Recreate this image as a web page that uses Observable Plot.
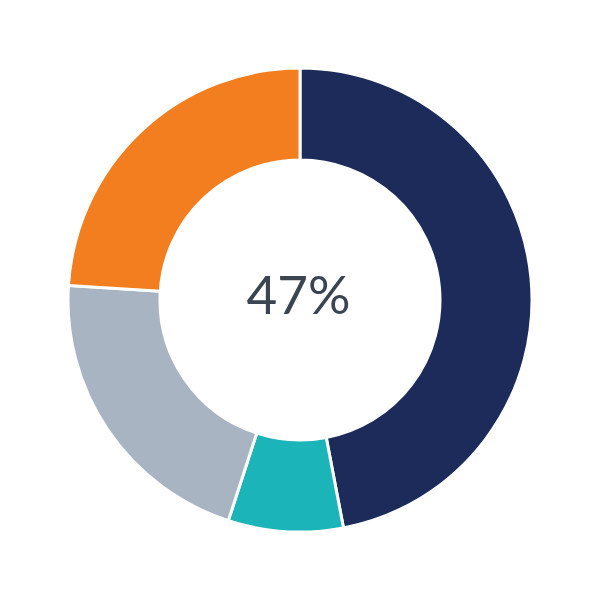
<!DOCTYPE html>
<html>
<head>
<meta charset="utf-8">
<script src="https://cdn.jsdelivr.net/npm/d3@7"></script>
<script src="https://cdn.jsdelivr.net/npm/@observablehq/plot@0.6"></script>
<style>
  html, body { margin: 0; padding: 0; background: #ffffff; }
  #chart { width: 600px; height: 600px; }
</style>
</head>
<body>
<div id="chart"></div>
<script>
// Data
const categories = ["A", "B", "C", "D"];
const values = [47, 8, 21, 24];
const colors = ["#1c2b5a", "#1bb4b8", "#a9b4c2", "#f27e20"];
const centerLabel = "47%";

const slices = categories.map((c, i) => ({ category: c, value: values[i] }));

const color = Plot.scale({ color: { type: "ordinal", domain: categories, range: colors } });

const outerR = 232;
const innerR = 140;

function donut(index, scales, vals, dimensions, context) {
  const cx = scales.x(0), cy = scales.y(0);
  const ro = Math.abs(scales.x(outerR) - scales.x(0));
  const ri = Math.abs(scales.x(innerR) - scales.x(0));
  const pie = d3.pie().sort(null).value(d => d.value);
  const arc = d3.arc().innerRadius(ri).outerRadius(ro);
  const g = d3.create("svg:g").attr("transform", `translate(${cx},${cy})`);
  g.selectAll("path")
    .data(pie(slices))
    .join("path")
    .attr("d", arc)
    .attr("fill", d => color.apply(d.data.category))
    .attr("stroke", "#ffffff")
    .attr("stroke-width", 3)
    .attr("stroke-linejoin", "miter");
  return g.node();
}

const chart = Plot.plot({
  width: 600,
  height: 600,
  margin: 0,
  x: { domain: [-300, 300], axis: null },
  y: { domain: [300, -300], axis: null },
  marks: [
    donut,
    Plot.text([centerLabel], {
      x: () => 0, y: () => 0,
      text: d => d,
      dx: -2,
      dy: -3,
      fontSize: 53,
      fontFamily: "Lato",
      fill: "#3b4451"
    })
  ]
});
document.getElementById("chart").append(chart);
</script>
</body>
</html>
